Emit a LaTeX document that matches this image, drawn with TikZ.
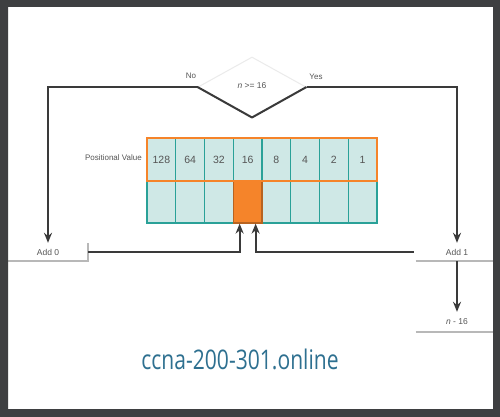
\documentclass[tikz,border=0pt]{standalone}
\usepackage{fontspec}
\setmainfont{Liberation Sans}
\newfontfamily\wmfont{Open Sans}
\usetikzlibrary{arrows.meta,shapes.geometric}
\definecolor{framec}{HTML}{3E3F41}
\definecolor{darkln}{HTML}{3A3A3A}
\definecolor{txtc}{HTML}{555555}
\definecolor{boxln}{HTML}{B8B8B8}
\definecolor{tealc}{HTML}{2AA198}
\definecolor{cellc}{HTML}{CFE8E6}
\definecolor{orangec}{HTML}{F5842A}
\definecolor{wmc}{HTML}{2E7090}
\tikzset{
  conn/.style={draw=darkln,line width=2pt,-{Stealth[length=10pt,width=8pt]}},
  lbl/.style={text=txtc,font=\fontsize{8}{10}\selectfont,inner sep=0pt},
  cell/.style={draw=tealc,fill=cellc,line width=1.2pt,inner sep=0pt,minimum width=28.75pt,text=txtc,font=\fontsize{10.5}{12}\selectfont},
  outbox/.style={inner sep=0pt,text=txtc,font=\fontsize{8.5}{10}\selectfont,minimum height=18pt},
  boxedge/.style={draw=boxln,line width=1.5pt}
}
\begin{document}
\begin{tikzpicture}[x=1pt,y=-1pt]
\useasboundingbox (0,0) rectangle (500,417);
\fill[white] (0,0) rectangle (500,417);
% decision
\node[diamond,draw=black!8,line width=1pt,minimum width=108pt,minimum height=60pt,inner sep=0pt,text=txtc,font=\fontsize{8.5}{10}\selectfont] (dec) at (252,87) {\raisebox{3pt}{\textit{n} >= 16}};
\draw[darkln,line width=2pt,line join=round] (dec.west) -- (dec.south) -- (dec.east);
\node[lbl] (no) at (191,76) {No};
\node[lbl] (yes) at (316,77) {Yes};
% table
\foreach \v [count=\i] in {128,64,32,16,8,4,2,1}
  \node[cell,minimum height=43pt] (t\i) at ({147+28.75*(\i-0.5)},159.5) {\v};
\foreach \i in {1,2,3,5,6,7,8}
  \node[cell,minimum height=42pt] (b\i) at ({147+28.75*(\i-0.5)},202) {};
\node[cell,minimum height=42pt,fill=orangec,draw=orangec!75!black] (b4) at ({147+28.75*3.5},202) {};
\draw[draw=orangec,line width=2pt] (147,138) rectangle (377,181);
\node[lbl,anchor=east] (pv) at (142,158) {Positional Value};
% outcome boxes
\node[outbox,minimum width=80pt] (add0) at (48,252) {Add 0};
\draw[boxedge] (add0.south west) -- (add0.south east) -- (add0.north east);
\node[outbox,minimum width=82pt] (add1) at (457,252) {Add 1};
\draw[boxedge] (add1.south west) -- (add1.south east);
\node[outbox,minimum width=82pt,minimum height=20pt] (n16) at (457,322) {\textit{n} - 16};
\draw[boxedge] (n16.south west) -- (n16.south east);
% connectors
\draw[conn] (dec.west) -| (add0.north);
\draw[conn] (dec.east) -| (add1.north);
\draw[conn] (add1.south) -- (n16.north);
\draw[conn] (add0.east) -| ([xshift=-8pt]b4.south);
\draw[conn] ([xshift=-2pt]add1.west) -| ([xshift=8pt]b4.south);
% watermark
\node[text=wmc,font=\wmfont\fontsize{27}{30}\selectfont,inner sep=0pt] (wm) at (240,359) {\scalebox{0.78}[1]{ccna-200-301.online}};
% frame
\fill[framec,even odd rule] (0,0) rectangle (500,417) (8,7) rectangle (493,409);
\end{tikzpicture}
\end{document}
